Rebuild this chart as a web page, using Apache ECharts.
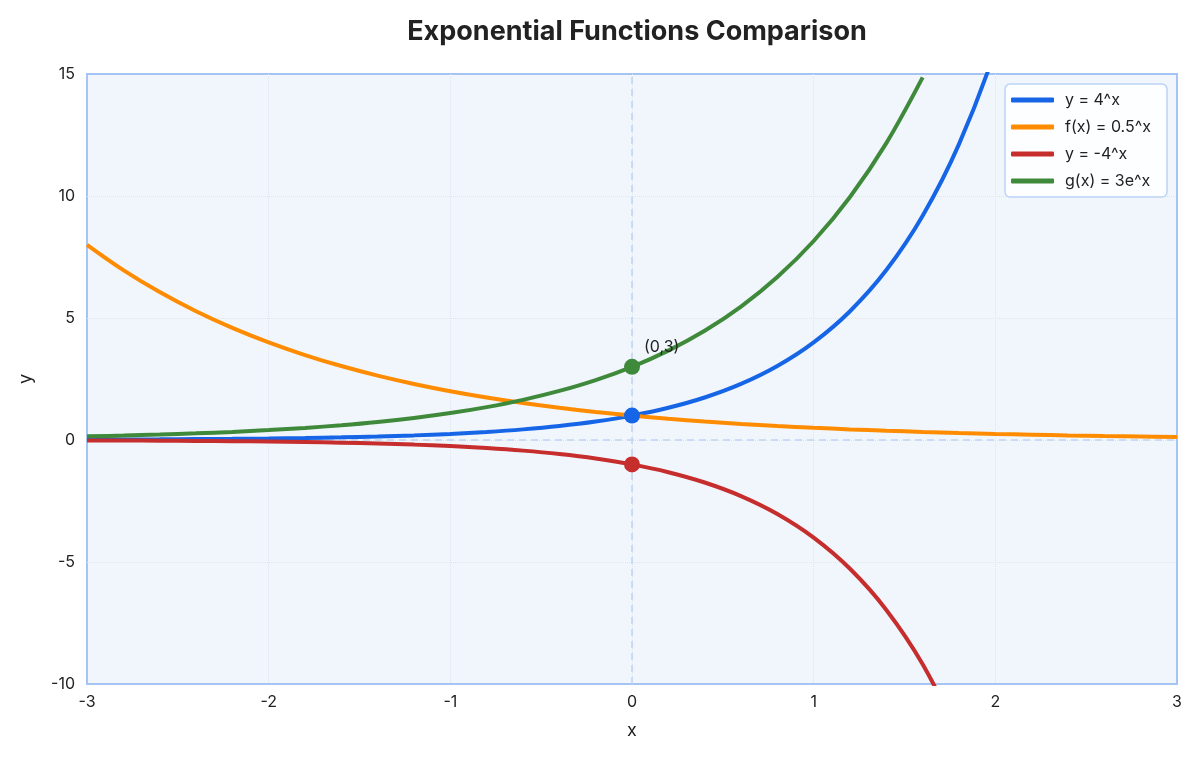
<!DOCTYPE html>
<html>
<head>
<meta charset="utf-8">
<script src="https://cdn.jsdelivr.net/npm/echarts@6/dist/echarts.min.js"></script>
<style>
  html, body { margin: 0; padding: 0; background: #ffffff; }
  #chart { width: 1200px; height: 761px; }
</style>
</head>
<body>
<div id="chart"></div>
<script>
// sample x positions
var xs = [-3, -2.8, -2.6, -2.4, -2.2, -2, -1.8, -1.6, -1.4, -1.2, -1, -0.8, -0.6, -0.4, -0.2,
          0, 0.2, 0.4, 0.6, 0.8, 1, 1.2, 1.4, 1.6, 1.8, 2, 2.2];

var pow4 = [0.0156, 0.0206, 0.0272, 0.0359, 0.0474, 0.0625, 0.0825, 0.1088, 0.1436, 0.1895, 0.25,
            0.3299, 0.4353, 0.5743, 0.7579, 1, 1.3195, 1.7411, 2.2974, 3.0314, 4, 5.278, 6.964,
            9.19, 12.126, 16, 21.11];

var half = [8, 6.964, 6.063, 5.278, 4.595, 4, 3.482, 3.031, 2.639, 2.297, 2, 1.741, 1.516, 1.32,
            1.149, 1, 0.871, 0.758, 0.66, 0.574, 0.5, 0.435, 0.379, 0.33, 0.287, 0.25, 0.218,
            0.189, 0.165, 0.144, 0.125];
var xsHalf = xs.concat([2.4, 2.6, 2.8, 3]);

var negPow4 = [-0.0156, -0.0206, -0.0272, -0.0359, -0.0474, -0.0625, -0.0825, -0.1088, -0.1436,
               -0.1895, -0.25, -0.3299, -0.4353, -0.5743, -0.7579, -1, -1.3195, -1.7411, -2.2974,
               -3.0314, -4, -5.278, -6.964, -9.19, -12.126];

var exp3 = [0.149, 0.182, 0.223, 0.272, 0.332, 0.406, 0.496, 0.606, 0.74, 0.904, 1.104, 1.348,
            1.646, 2.011, 2.456, 3, 3.664, 4.475, 5.466, 6.677, 8.155, 9.96, 12.166, 14.859];

var keyPoints = [[0, 1], [0, 3], [0, -1]];
var keyColors = ['#1565e6', '#3f8a3a', '#c62d2d'];

var names = ['y = 4^x', 'f(x) = 0.5^x', 'y = -4^x', 'g(x) = 3e^x'];
var colors = ['#1565e6', '#ff8c00', '#c62d2d', '#3f8a3a'];

function pairs(xv, yv) {
    var out = [];
    for (var i = 0; i < yv.length; i++) out.push([xv[i], yv[i]]);
    return out;
}

var fontName = 'Inter, "Noto Sans", sans-serif';

var chart = echarts.init(document.getElementById('chart'));

function lineSeries(i, data) {
    return {
        name: names[i],
        type: 'line',
        data: data,
        smooth: 0.35,
        showSymbol: false,
        symbol: 'none',
        clip: true,
        lineStyle: { color: colors[i], width: 4 },
        itemStyle: { color: colors[i] },
        z: 3
    };
}

var series = [
    lineSeries(0, pairs(xs, pow4)),
    lineSeries(1, pairs(xsHalf, half)),
    lineSeries(2, pairs(xs, negPow4)),
    lineSeries(3, pairs(xs, exp3))
];

// zero lines
series[0].markLine = {
    silent: true,
    symbol: 'none',
    label: { show: false },
    lineStyle: { color: '#bdd3f3', type: [7, 5], width: 1.5 },
    data: [{ xAxis: 0 }, { yAxis: 0 }],
    z: 1
};

series.push({
    type: 'scatter',
    symbolSize: 16,
    z: 5,
    data: keyPoints.map(function (p, i) {
        return {
            value: p,
            itemStyle: { color: keyColors[i], opacity: 1 },
            label: {
                show: i === 1,
                formatter: '(0,3)',
                position: [20, -20],
                color: '#222',
                fontSize: 16,
                fontFamily: fontName
            }
        };
    })
});

var option = {
    animation: false,
    backgroundColor: '#ffffff',
    title: {
        text: 'Exponential Functions Comparison',
        left: 632,
        textAlign: 'center',
        top: 13,
        textStyle: { fontSize: 27, fontWeight: 'bold', color: '#222', fontFamily: fontName }
    },
    legend: {
        data: names,
        orient: 'vertical',
        right: 33,
        top: 84,
        icon: 'roundRect',
        itemWidth: 43,
        itemHeight: 5,
        itemGap: 11,
        padding: [8, 16, 8, 6],
        backgroundColor: 'rgba(255,255,255,0.85)',
        borderColor: '#bcd3f5',
        borderWidth: 1.5,
        borderRadius: 5,
        textStyle: { fontSize: 16, color: '#222', fontFamily: fontName, padding: [0, 0, 0, 6] }
    },
    grid: {
        left: 87,
        right: 23,
        top: 74,
        bottom: 77,
        show: true,
        backgroundColor: '#f1f6fd',
        borderColor: '#a6c4f3',
        borderWidth: 2
    },
    xAxis: {
        type: 'value',
        min: -3,
        max: 3,
        interval: 1,
        name: 'x',
        nameLocation: 'middle',
        nameGap: 38,
        nameTextStyle: { fontSize: 18, color: '#222', fontFamily: fontName },
        axisLine: { show: false },
        axisTick: { show: false },
        axisLabel: { fontSize: 16, color: '#222', margin: 10, fontFamily: fontName },
        splitLine: {
            show: true, showMinLine: false, showMaxLine: false,
            lineStyle: { color: '#dde5f1', type: 'dotted', width: 1 }
        }
    },
    yAxis: {
        type: 'value',
        min: -10,
        max: 15,
        interval: 5,
        name: 'y',
        nameLocation: 'middle',
        nameGap: 52,
        nameTextStyle: { fontSize: 18, color: '#222', fontFamily: fontName },
        axisLine: { show: false },
        axisTick: { show: false },
        axisLabel: { fontSize: 16, color: '#222', margin: 12, fontFamily: fontName },
        splitLine: {
            show: true, showMinLine: false, showMaxLine: false,
            lineStyle: { color: '#dde5f1', type: 'dotted', width: 1 }
        }
    },
    series: series
};

chart.setOption(option);
</script>
</body>
</html>
